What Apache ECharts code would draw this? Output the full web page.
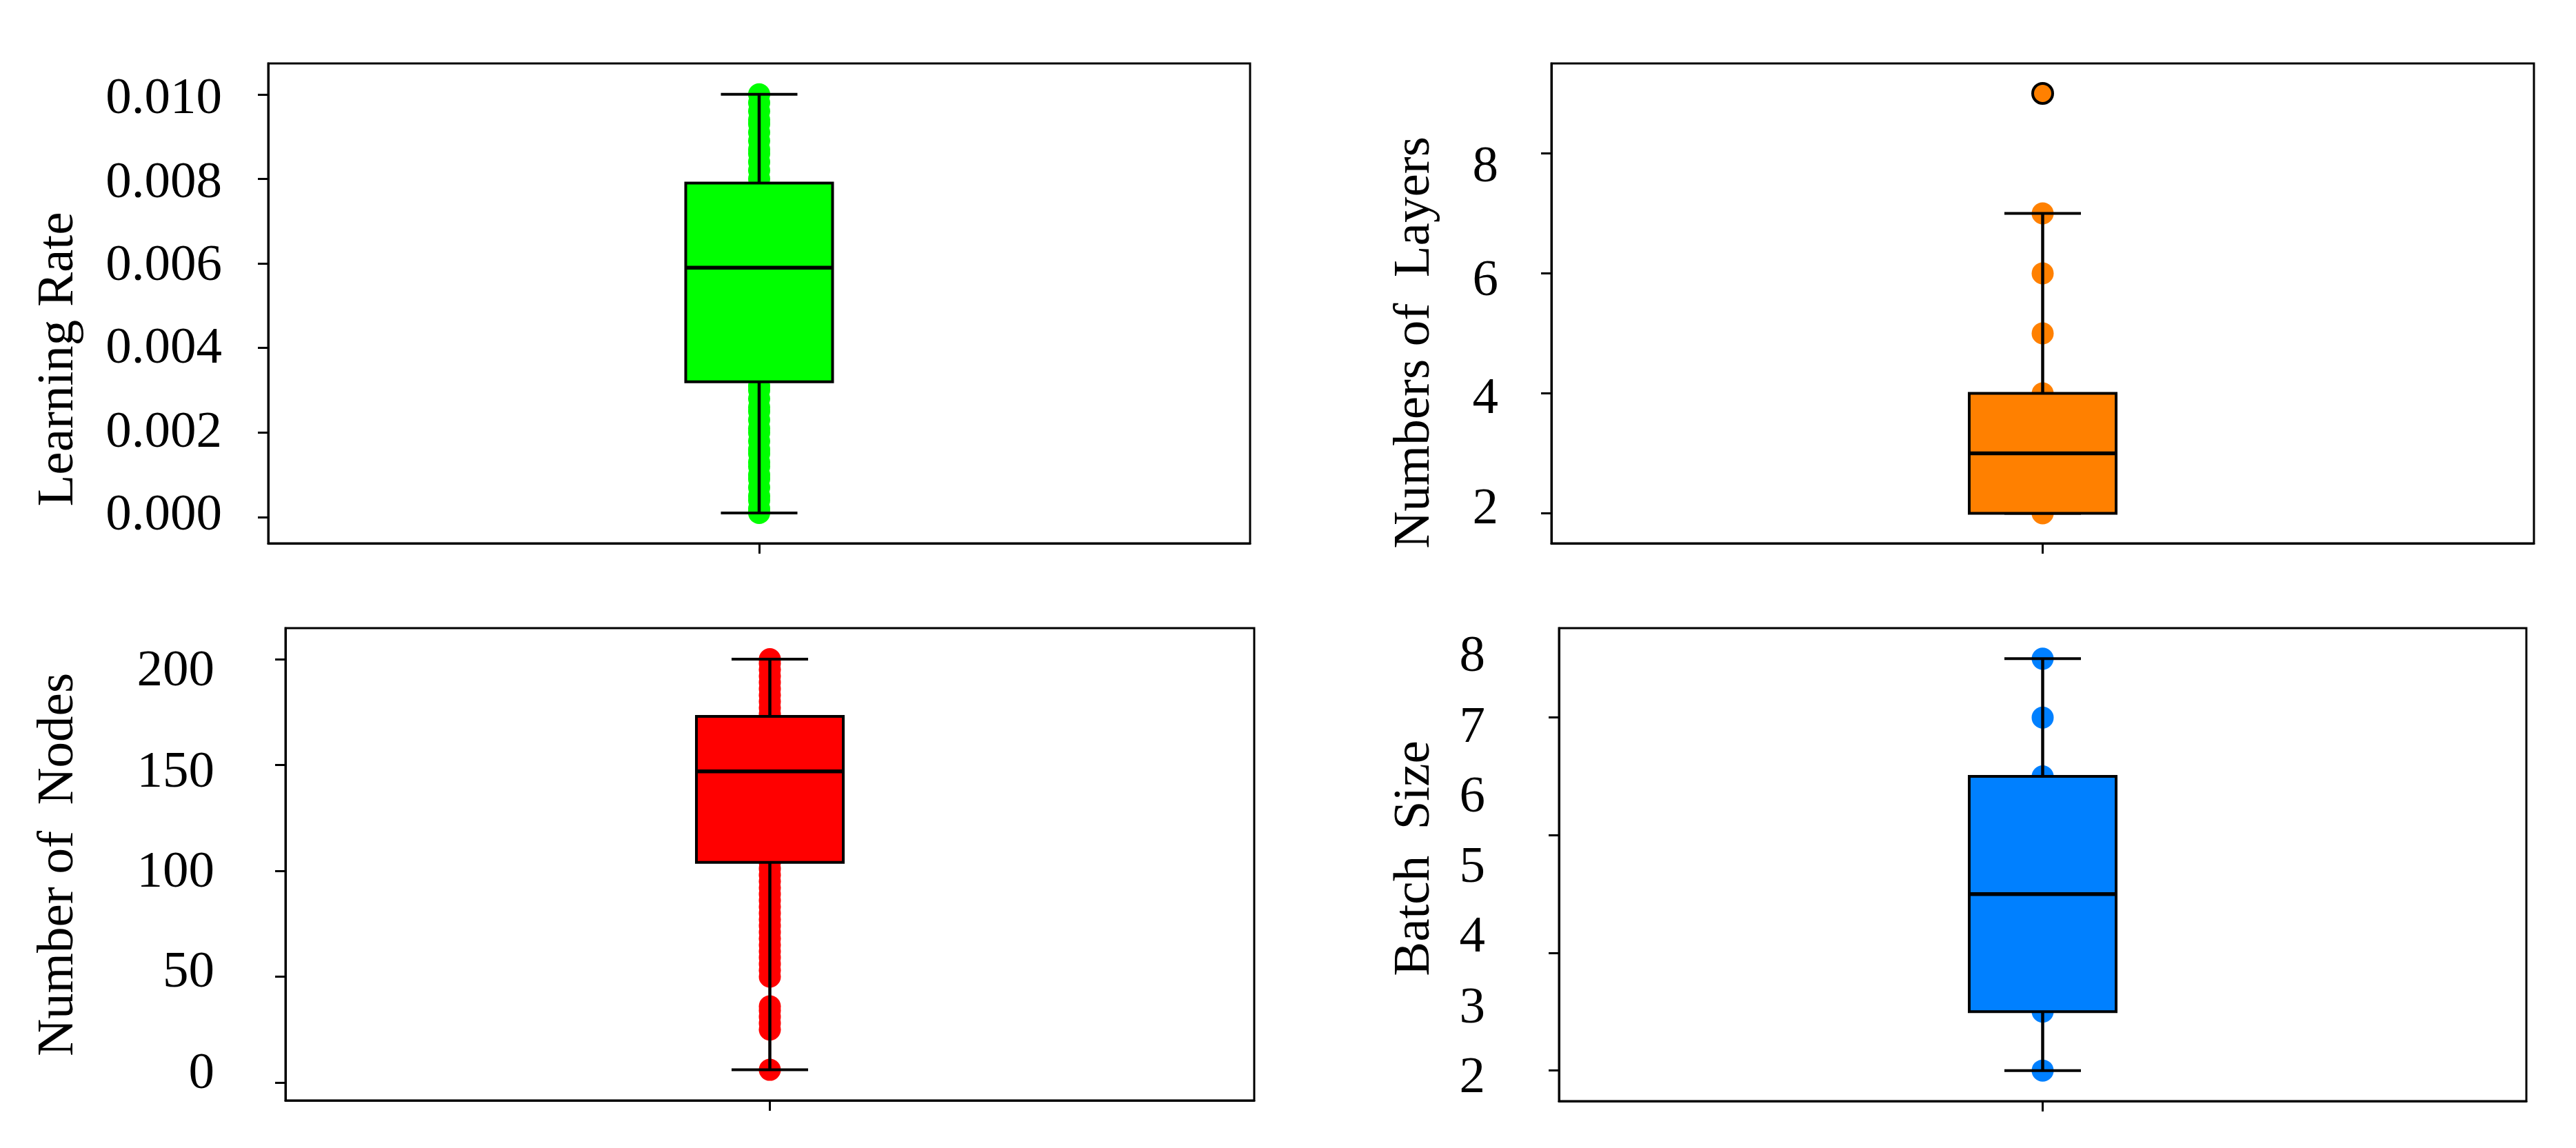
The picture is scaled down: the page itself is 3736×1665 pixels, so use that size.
<!DOCTYPE html>
<html>
<head>
<meta charset="utf-8">
<script src="https://cdn.jsdelivr.net/npm/echarts@6/dist/echarts.min.js"></script>
<style>
html,body{margin:0;padding:0;background:#fff;}
#chart{width:3736px;height:1665px;}
</style>
</head>
<body>
<div id="chart"></div>
<script>
// ---------- data ----------
const categories = ['1'];

// Learning Rate panel
const lrBox = [0.0001, 0.0032, 0.0059, 0.0079, 0.0100];   // min, Q1, median, Q3, max
const lrPoints = [0.0001, 0.0002, 0.0004, 0.0005, 0.0007, 0.0009, 0.0010, 0.0012, 0.0013, 0.0015,
                  0.0016, 0.0018, 0.0020, 0.0021, 0.0023, 0.0025, 0.0026, 0.0028, 0.0030, 0.0031,
                  0.0035, 0.0041, 0.0047, 0.0052, 0.0056, 0.0061, 0.0066, 0.0070, 0.0074,
                  0.0080, 0.0082, 0.0084, 0.0086, 0.0087, 0.0089, 0.0091, 0.0093, 0.0094, 0.0096,
                  0.0098, 0.0100];
const lrTicks = [0, 0.002, 0.004, 0.006, 0.008, 0.010];
const lrLabelPos = [0.0000326, 0.001985, 0.003968, 0.005926, 0.007886, 0.009876];
const lrLabels = ['0.000', '0.002', '0.004', '0.006', '0.008', '0.010'];

// Numbers of Layers panel
const layBox = [2, 2, 3, 4, 7];
const layPoints = [2, 3, 4, 5, 6, 7];
const layOutliers = [9];
const layTicks = [2, 4, 6, 8];
const layLabelPos = [2.06, 3.90, 5.87, 7.76];
const layLabels = ['2', '4', '6', '8'];

// Number of Nodes panel
const nodeBox = [6, 104, 147, 173, 200];
const nodePoints = [6, 25, 28, 31, 34, 36,
                    50, 53, 56, 59, 62, 65, 68, 71, 74, 77, 80, 83, 86, 89, 92, 95, 98, 101, 104,
                    110, 120, 130, 140, 150, 160, 170,
                    174, 177, 180, 183, 186, 189, 192, 195, 198, 200];
const nodeTicks = [0, 50, 100, 150, 200];
const nodeLabelPos = [3.9, 51.6, 99.0, 146.3, 193.9];
const nodeLabels = ['0', '50', '100', '150', '200'];

// Batch Size panel
const batchBox = [2, 3, 5, 7, 9];
const batchPoints = [2, 3, 4, 5, 6, 7, 8, 9];
const batchTicks = [2, 4, 6, 8];
const batchLabelPos = [1.86, 3.05, 4.25, 5.44, 6.63, 7.82, 9.02];
const batchLabels = ['2', '3', '4', '5', '6', '7', '8'];

const titles = ['Learning Rate', 'Numbers of  Layers', 'Number of  Nodes', 'Batch  Size'];

// ---------- layout / style ----------
const FONT = 'Liberation Serif';
const FS = 75;
const panels = [
  {grid: {left: 389,  top: 92,  width: 1424, height: 696}, range: [-0.000619, 0.010730], ticks: lrTicks,    lpos: lrLabelPos,    labels: lrLabels,    margin: 67,  box: lrBox,    pts: lrPoints,    color: '#00ff00', title: titles[0], tx: 85,   ty: 521},
  {grid: {left: 2250, top: 92,  width: 1425, height: 696}, range: [1.50, 9.50],           ticks: layTicks,   lpos: layLabelPos,   labels: layLabels,   margin: 77,  box: layBox,   pts: layPoints,   color: '#ff8000', title: titles[1], tx: 2052, ty: 497, outliers: layOutliers},
  {grid: {left: 414,  top: 911, width: 1405, height: 685}, range: [-8.47, 214.66],        ticks: nodeTicks,  lpos: nodeLabelPos,  labels: nodeLabels,  margin: 103, box: nodeBox,  pts: nodePoints,  color: '#ff0000', title: titles[2], tx: 85,   ty: 1254},
  {grid: {left: 2261, top: 911, width: 1403, height: 686}, range: [1.48, 9.52],           ticks: batchTicks, lpos: batchLabelPos, labels: batchLabels, margin: 107, box: batchBox, pts: batchPoints, color: '#0080ff', title: titles[3], tx: 2052, ty: 1245}
];

const BOX_W = 213, CAP_W = 111;

function makeRender(color) {
  return function (params, api) {
    const x = api.value(0);
    const pMin = api.coord([x, api.value(1)]);
    const pQ1 = api.coord([x, api.value(2)]);
    const pMed = api.coord([x, api.value(3)]);
    const pQ3 = api.coord([x, api.value(4)]);
    const pMax = api.coord([x, api.value(5)]);
    const cx = pMin[0];
    const ls = {stroke: '#000', lineWidth: 4.5};
    return {
      type: 'group',
      children: [
        {type: 'line', shape: {x1: cx, y1: pQ1[1], x2: cx, y2: pMin[1]}, style: ls},
        {type: 'line', shape: {x1: cx, y1: pQ3[1], x2: cx, y2: pMax[1]}, style: ls},
        {type: 'line', shape: {x1: cx - CAP_W / 2, y1: pMin[1], x2: cx + CAP_W / 2, y2: pMin[1]}, style: {stroke: '#000', lineWidth: 4}},
        {type: 'line', shape: {x1: cx - CAP_W / 2, y1: pMax[1], x2: cx + CAP_W / 2, y2: pMax[1]}, style: {stroke: '#000', lineWidth: 4}},
        {type: 'rect', shape: {x: cx - BOX_W / 2, y: pQ3[1], width: BOX_W, height: pQ1[1] - pQ3[1]}, style: {fill: color, stroke: '#000', lineWidth: 4}},
        {type: 'line', shape: {x1: cx - BOX_W / 2, y1: pMed[1], x2: cx + BOX_W / 2, y2: pMed[1]}, style: {stroke: '#000', lineWidth: 5.5}}
      ]
    };
  };
}

function nearestLabel(v, pos, labels) {
  let best = 0, bd = Infinity;
  pos.forEach((p, i) => { const d = Math.abs(p - v); if (d < bd) { bd = d; best = i; } });
  return labels[best];
}

const option = {
  backgroundColor: '#fff',
  animation: false,
  grid: panels.map(p => Object.assign({show: true, borderColor: '#000', borderWidth: 3, backgroundColor: 'transparent', containLabel: false}, p.grid)),
  xAxis: panels.map((p, i) => ({
    type: 'category', gridIndex: i, data: categories, boundaryGap: true,
    axisLine: {show: true, onZero: false, lineStyle: {color: '#000', width: 3}},
    axisTick: {show: true, alignWithLabel: true, length: 15, lineStyle: {color: '#000', width: 3}},
    axisLabel: {show: false},
    splitLine: {show: false}
  })),
  yAxis: panels.map((p, i) => ({
    type: 'value', gridIndex: i, min: p.range[0], max: p.range[1],
    axisLine: {show: true, onZero: false, lineStyle: {color: '#000', width: 3}},
    axisTick: {show: true, length: 15, lineStyle: {color: '#000', width: 3}, customValues: p.ticks},
    axisLabel: {
      show: true, margin: p.margin, customValues: p.lpos,
      fontFamily: FONT, fontSize: FS, color: '#000',
      formatter: (v) => nearestLabel(v, p.lpos, p.labels)
    },
    splitLine: {show: false}
  })),
  series: [].concat(
    panels.map((p, i) => ({
      type: 'scatter', xAxisIndex: i, yAxisIndex: i, z: 1,
      symbol: 'circle', symbolSize: 32,
      itemStyle: {color: p.color, opacity: 1},
      data: p.pts.map(v => [0, v])
    })),
    panels.map((p, i) => ({
      type: 'custom', xAxisIndex: i, yAxisIndex: i, z: 2,
      renderItem: makeRender(p.color),
      encode: {x: 0, y: [1, 2, 3, 4, 5]},
      data: [[0].concat(p.box)]
    })),
    panels.filter(p => p.outliers).map(p => {
      const i = panels.indexOf(p);
      return {
        type: 'scatter', xAxisIndex: i, yAxisIndex: i, z: 3,
        symbol: 'circle', symbolSize: 29,
        itemStyle: {color: p.color, borderColor: '#000', borderWidth: 4, opacity: 1},
        data: p.outliers.map(v => [0, v])
      };
    })
  ),
  graphic: panels.map(p => ({
    type: 'text', x: p.tx, y: p.ty, rotation: Math.PI / 2,
    style: {
      text: p.title, fontFamily: FONT, fontSize: FS, fill: '#000',
      align: 'center', verticalAlign: 'middle'
    }
  }))
};

const chart = echarts.init(document.getElementById('chart'), null, {renderer: 'canvas'});
chart.setOption(option);
</script>
</body>
</html>
